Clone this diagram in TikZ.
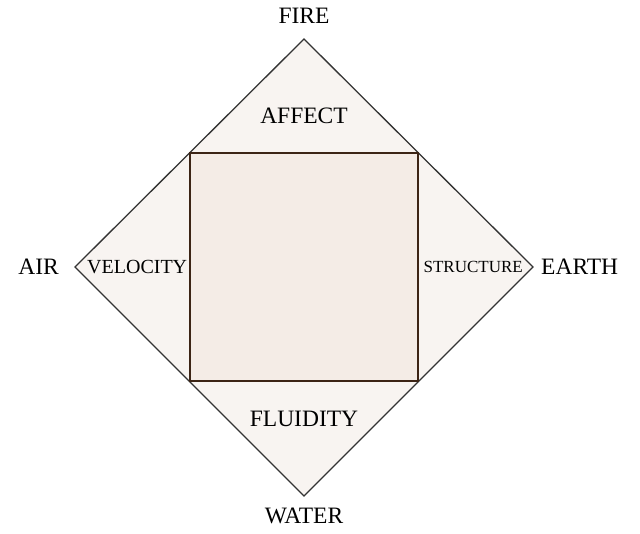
\documentclass[tikz,border=0pt]{standalone}
\usepackage{fontspec}
\setmainfont{Liberation Serif}
\usetikzlibrary{positioning}
\definecolor{sand}{HTML}{F8F4F1}
\definecolor{clay}{HTML}{F4ECE6}
\definecolor{umber}{HTML}{3C2415}
\tikzset{
  element/.style={inner sep=0pt, font=\fontsize{23.5}{26}\selectfont},
  quality/.style={inner sep=0pt, font=\fontsize{20}{22}\selectfont},
  smallquality/.style={inner sep=0pt, font=\fontsize{17}{19}\selectfont},
}

\begin{document}
\begin{tikzpicture}[x=1pt,y=-1pt]
  \useasboundingbox (0,0) rectangle (640,534);

  % Corners
  \coordinate (top)    at (304,39);
  \coordinate (left)   at (75,267);
  \coordinate (right)  at (533,267);
  \coordinate (bottom) at (304,496);
  \coordinate (nw) at (190,153);
  \coordinate (se) at (418,381);

  % Shapes
  \draw[fill=sand, draw=black!80, line width=1.3pt]
    (top) -- (right) -- (bottom) -- (left) -- cycle;
  \draw[fill=clay, draw=umber, line width=1.7pt] (nw) rectangle (se);

  % Elements
  \node[element, above=15pt of top]   (fire)  {FIRE};
  \node[element, left=16pt of left]   (air)   {AIR};
  \node[element, right=8pt of right]  (earth) {EARTH};
  \node[element, below=12pt of bottom](water) {WATER};

  % Qualities
  \node[element, below=69pt of top]      (affect)    {AFFECT};
  \node[quality, right=12pt of left]     (velocity)  {VELOCITY};
  \node[smallquality, left=10pt of right](structure) {STRUCTURE};
  \node[element, above=69pt of bottom]   (fluidity)  {FLUIDITY};
\end{tikzpicture}
\end{document}
